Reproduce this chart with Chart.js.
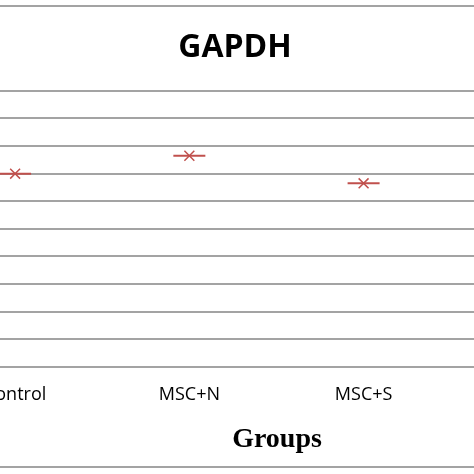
<!DOCTYPE html>
<html>
<head>
<meta charset="utf-8">
<script src="https://cdn.jsdelivr.net/npm/chart.js@4.4.1/dist/chart.umd.min.js"></script>
<style>
  html, body { margin: 0; padding: 0; background: #fff; overflow: hidden; }
  body { width: 474px; height: 474px; position: relative; }
  #wrap { position: absolute; left: -174px; top: 0; width: 818px; height: 474px; }
  #frame { position: absolute; left: 0; top: 5px; width: 474px; height: 459px;
           border-top: 2px solid #a3a3a3; border-bottom: 2px solid #a3a3a3; pointer-events: none; }
</style>
</head>
<body>
<div id="wrap"><canvas id="chart"></canvas></div>
<div id="frame"></div>
<script>
// ===== Data =====
const groups = ['Control', 'MSC+N', 'MSC+S'];
const gapdh = [0.70, 0.765, 0.665];
const yTicks = [0, 0.1, 0.2, 0.3, 0.4, 0.5, 0.6, 0.7, 0.8, 0.9, 1.0];

const red = '#c0504d';
const points = gapdh.map((v, i) => ({x: i, y: v}));

const chart = new Chart(document.getElementById('chart').getContext('2d'), {
    type: 'scatter',
    data: {
        datasets: [
            // horizontal dash part of the marker
            { data: points, pointStyle: 'line', pointRadius: 16, pointBorderWidth: 2,
              borderColor: red, backgroundColor: red, showLine: false },
            // the x part of the marker
            { data: points, pointStyle: 'crossRot', pointRadius: 7, pointBorderWidth: 1.5,
              borderColor: red, backgroundColor: red, showLine: false }
        ]
    },
    options: {
        responsive: true,
        maintainAspectRatio: false,
        animation: false,
        layout: { padding: 0 },
        plugins: {
            legend: { display: false },
            tooltip: { enabled: false },
            title: {
                display: true, text: 'GAPDH', color: '#000',
                font: { family: 'Open Sans', size: 32, weight: 'bold' },
                padding: { top: 28.5, bottom: 24 }
            }
        },
        scales: {
            x: {
                type: 'linear', min: -0.5, max: 3.506,
                grid: { display: false, drawTicks: false },
                border: { display: false },
                afterBuildTicks: ax => { ax.ticks = groups.map((g, i) => ({value: i})); },
                ticks: {
                    color: '#000', padding: 17, maxRotation: 0, autoSkip: false,
                    font: { family: 'Open Sans', size: 18 },
                    callback: v => groups[v] ?? ''
                },
                title: {
                    display: true, text: 'Groups', color: '#000',
                    font: { family: 'Liberation Serif', size: 28, weight: 'bold' },
                    padding: { top: 1, bottom: 17 }
                }
            },
            y: {
                min: 0, max: 1,
                afterBuildTicks: ax => { ax.ticks = yTicks.map(v => ({value: v})); },
                afterFit: ax => { ax.width = 102; },
                grid: { color: '#a3a3a3', lineWidth: 2, drawTicks: false },
                border: { display: false },
                ticks: { display: false }
            }
        }
    }
});
</script>
</body>
</html>
